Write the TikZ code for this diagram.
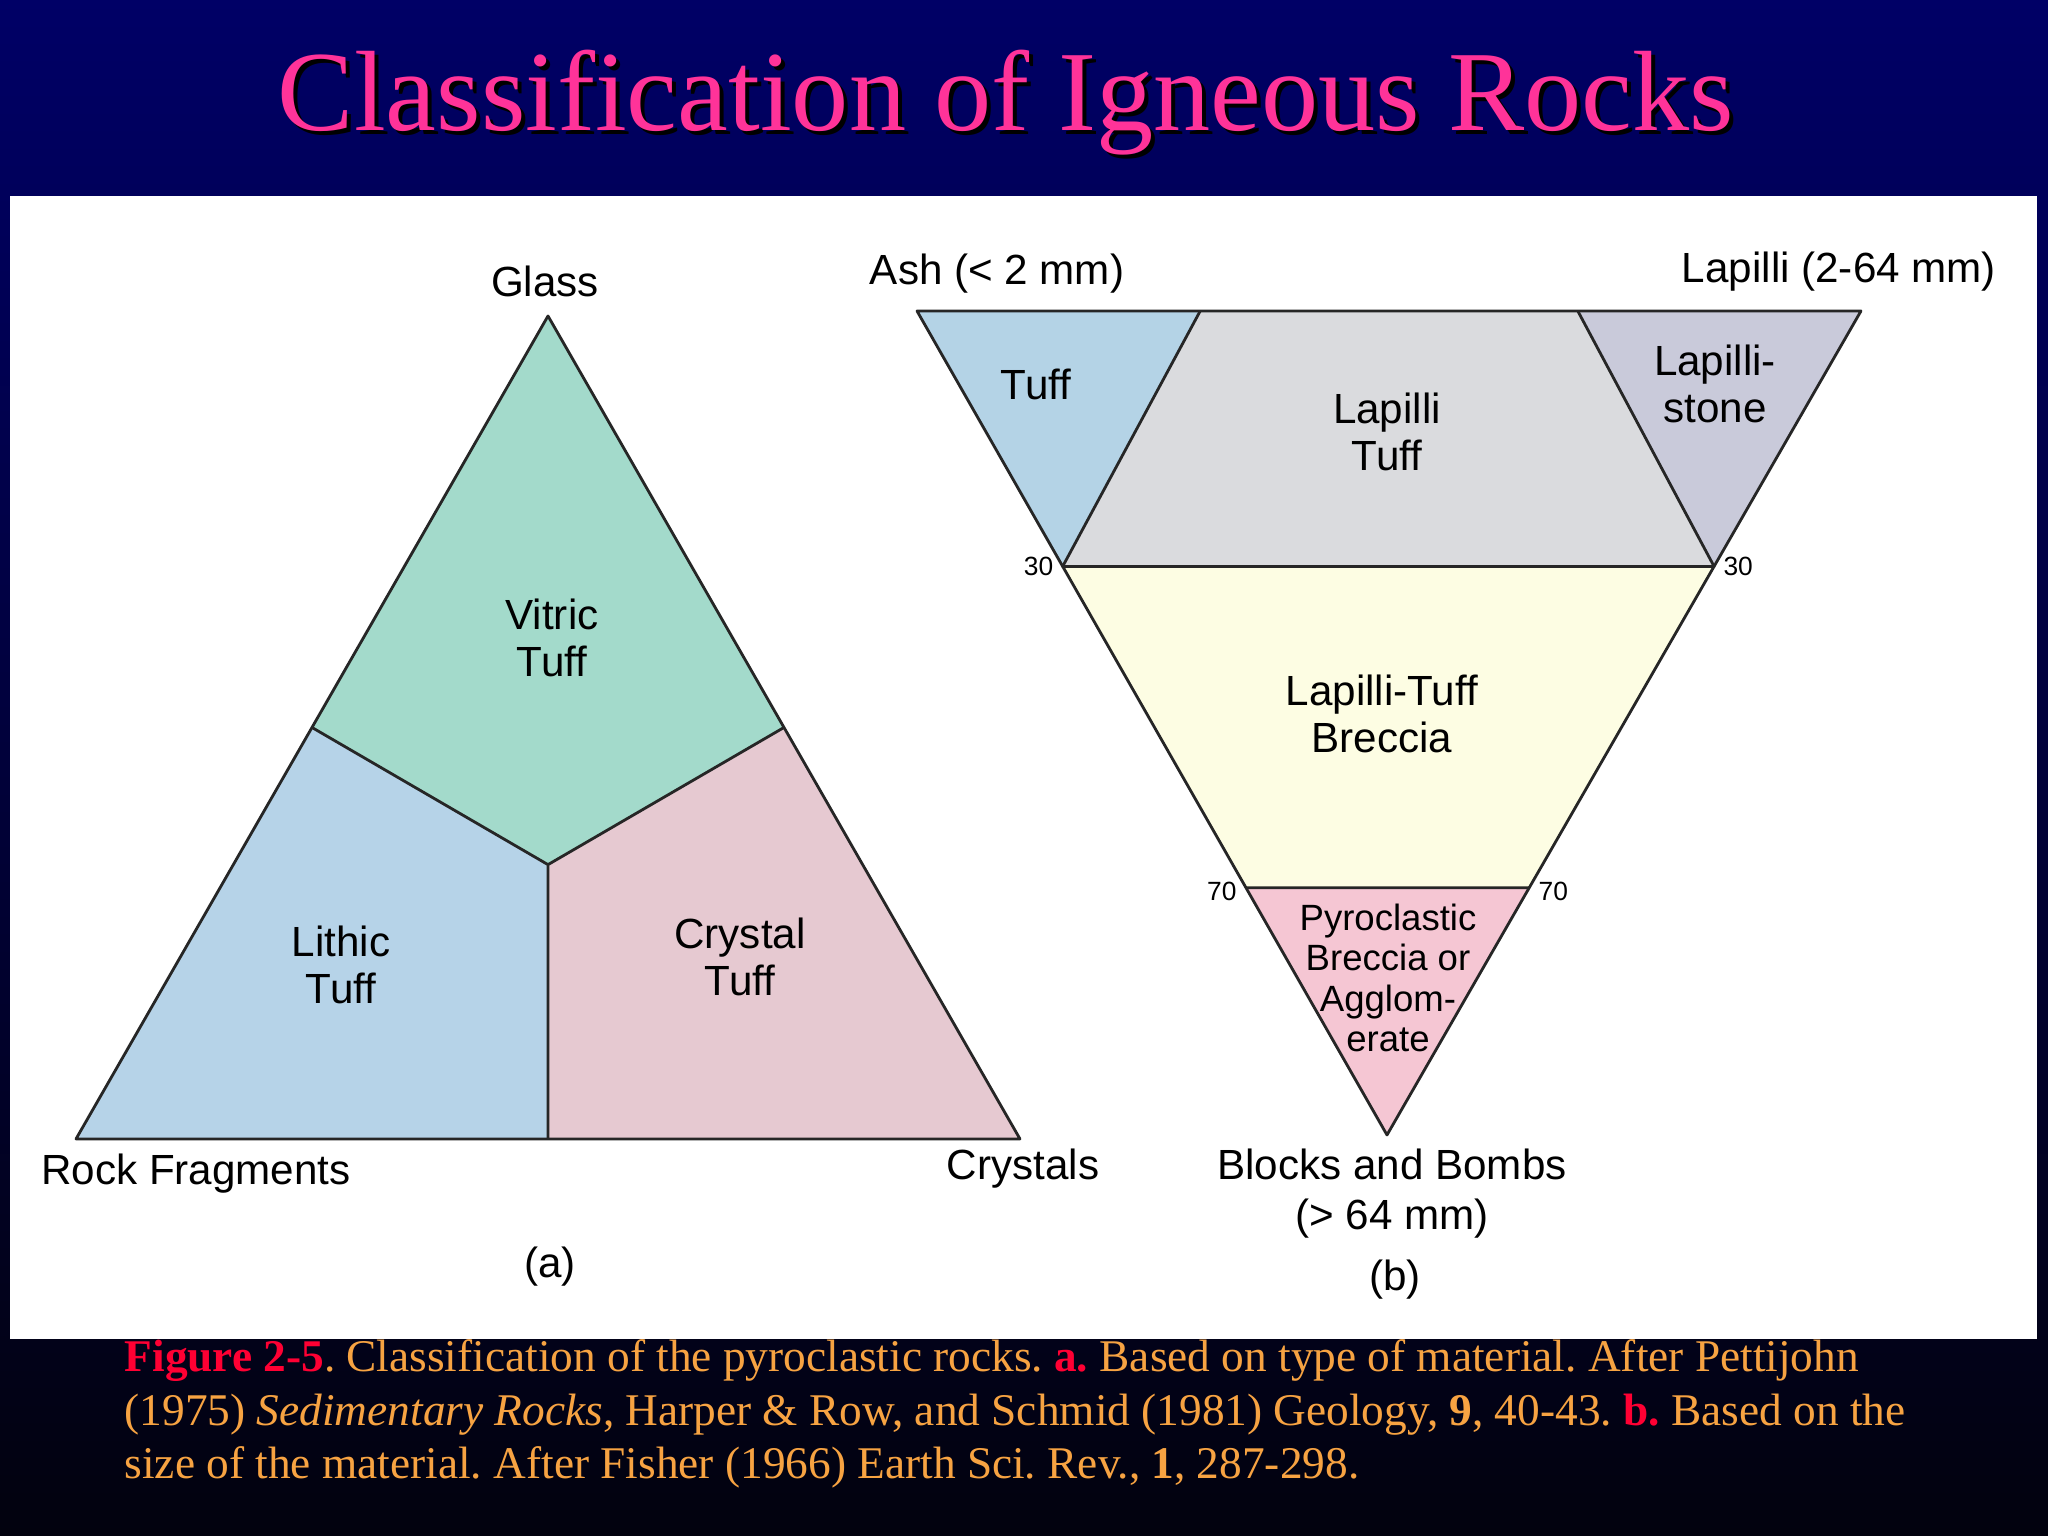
\documentclass[tikz,border=0pt]{standalone}
\usepackage{fontspec}
\setmainfont{Liberation Serif}
\setsansfont{Liberation Sans}
\usepackage{xcolor}
\usetikzlibrary{calc,positioning}

\definecolor{slidetop}{RGB}{0,0,102}
\definecolor{slidebot}{RGB}{2,2,14}
\definecolor{titlepink}{RGB}{255,51,153}
\definecolor{capred}{RGB}{255,0,51}
\definecolor{caporange}{RGB}{247,163,66}
\definecolor{vitric}{RGB}{163,218,203}
\definecolor{lithic}{RGB}{182,211,232}
\definecolor{crystal}{RGB}{230,201,209}
\definecolor{tuff}{RGB}{180,211,230}
\definecolor{laptuff}{RGB}{218,219,222}
\definecolor{lapstone}{RGB}{201,202,218}
\definecolor{breccia}{RGB}{253,253,227}
\definecolor{pyro}{RGB}{245,198,211}

\begin{document}
\begin{tikzpicture}[
  edge/.style={draw=black!85,line width=0.8pt,line join=round},
  lab/.style={font=\sffamily\fontsize{12}{13.6}\selectfont,align=center,inner sep=0pt},
  small/.style={font=\sffamily\fontsize{10.4}{11.5}\selectfont,align=center,inner sep=0pt},
  tick/.style={font=\sffamily\fontsize{7.5}{8}\selectfont,inner sep=2.5pt}]
\shade[top color=slidetop,bottom color=slidebot] (0,0) rectangle (20.48,15.36);
\useasboundingbox (0,0) rectangle (20.48,15.36);
\node[font=\fontsize{32.5}{38}\selectfont,text=black,anchor=base] at (10.10,14.01)
  {Classification of Igneous Rocks};
\node[font=\fontsize{32.5}{38}\selectfont,text=titlepink,anchor=base] (title) at (10.06,14.05)
  {Classification of Igneous Rocks};
\fill[white] (0.10,1.97) rectangle (20.37,13.40);
% (a) type of material
\coordinate (G) at (5.48,12.20);
\coordinate (RF) at (0.76,3.97);
\coordinate (CR) at (10.20,3.97);
\coordinate (mL) at ($(G)!0.5!(RF)$);
\coordinate (mR) at ($(G)!0.5!(CR)$);
\coordinate (mB) at ($(RF)!0.5!(CR)$);
\coordinate (C) at ($(G)!2/3!(mB)$);
\fill[vitric] (G) -- (mR) -- (C) -- (mL) -- cycle;
\fill[lithic] (mL) -- (C) -- (mB) -- (RF) -- cycle;
\fill[crystal] (C) -- (mR) -- (CR) -- (mB) -- cycle;
\draw[edge] (G) -- (RF) -- (CR) -- cycle;
\draw[edge] (mL) -- (C) -- (mR) (C) -- (mB);
\node[lab] (glass) at (5.45,12.55) {Glass};
\node[lab] (vitric) at (5.52,8.98) {Vitric\\Tuff};
\node[lab] (lithic) at (3.41,5.71) {Lithic\\Tuff};
\node[lab] (crystal) at (7.40,5.79) {Crystal\\Tuff};
\node[lab] (rockfr) at (1.96,3.62) {Rock Fragments};
\node[lab] (crystals) at (10.23,3.67) {Crystals};
\node[lab] (capa) at (5.50,2.69) {(a)};
% (b) size of material
\coordinate (A) at (9.17,12.25);
\coordinate (Lp) at (18.61,12.25);
\coordinate (B) at (13.87,4.01);
\coordinate (a30) at ($(A)!0.31!(B)$);
\coordinate (l30) at ($(Lp)!0.31!(B)$);
\coordinate (a70) at ($(A)!0.70!(B)$);
\coordinate (l70) at ($(Lp)!0.70!(B)$);
\coordinate (t30) at ($(A)!0.3!(Lp)$);
\coordinate (t70) at ($(A)!0.7!(Lp)$);
\fill[tuff] (A) -- (t30) -- (a30) -- cycle;
\fill[laptuff] (t30) -- (t70) -- (l30) -- (a30) -- cycle;
\fill[lapstone] (t70) -- (Lp) -- (l30) -- cycle;
\fill[breccia] (a30) -- (l30) -- (l70) -- (a70) -- cycle;
\fill[pyro] (a70) -- (l70) -- (B) -- cycle;
\draw[edge] (A) -- (Lp) -- (B) -- cycle;
\draw[edge] (t30) -- (a30) -- (l30) -- (t70) (a70) -- (l70);
\node[tick,left] (n30a) at (a30) {30};
\node[tick,right] (n30l) at (l30) {30};
\node[tick,left,yshift=-0.04cm] (n70a) at (a70) {70};
\node[tick,right,yshift=-0.04cm] (n70l) at (l70) {70};
\node[lab] (ash) at (9.97,12.62) {Ash (< 2 mm)};
\node[lab] (lapilli) at (18.39,12.64) {Lapilli (2-64 mm)};
\node[lab] (tuffl) at (10.36,11.52) {Tuff};
\node[lab] (laptuffl) at (13.87,11.04) {Lapilli\\Tuff};
\node[lab] (lapstonel) at (17.15,11.52) {Lapilli-\\stone};
\node[lab] (brecl) at (13.82,8.22) {Lapilli-Tuff\\Breccia};
\node[small] (pyrol) at (13.88,5.58) {Pyroclastic\\Breccia or\\Agglom-\\erate};
\node[lab,font=\sffamily\fontsize{12}{14.2}\selectfont] (blocks) at (13.92,3.42)
  {Blocks and Bombs\\(> 64 mm)};
\node[lab] (capb) at (13.95,2.56) {(b)};
% caption
\node[anchor=base west,align=left,inner sep=0pt,text=caporange,
  font=\frenchspacing\fontsize{12.9}{15.3}\selectfont] (caption) at (1.24,0.57)
  {{\color{capred}\bfseries Figure 2-5}. Classification of the pyroclastic rocks.
   {\color{capred}\bfseries a.} Based on type of material. After Pettijohn\\
   (1975) \textit{Sedimentary Rocks}, Harper \& Row, and Schmid (1981) Geology,
   \textbf{9}, 40-43. {\color{capred}\bfseries b.} Based on the\\
   size of the material. After Fisher (1966) Earth Sci. Rev., \textbf{1}, 287-298.};
\end{tikzpicture}
\end{document}
